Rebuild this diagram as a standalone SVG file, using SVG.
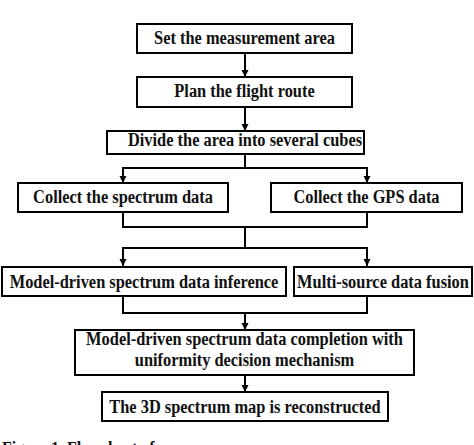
<svg xmlns="http://www.w3.org/2000/svg" width="474" height="445" viewBox="0 0 474 445">
<style>
.box{fill:#fff;stroke:#000;stroke-width:2}
.t{font-family:"Liberation Serif","Times New Roman",serif;font-weight:bold;font-size:16.4px;fill:#111;text-anchor:middle}
.c{fill:none;stroke:#000;stroke-width:2}
.cap{font-family:"Liberation Serif","Times New Roman",serif;font-weight:bold;font-size:16px;fill:#111}
</style>
<defs>
<marker id="ah" viewBox="0 0 10 10" refX="10" refY="5" markerWidth="3.6" markerHeight="4.2" orient="auto" markerUnits="strokeWidth">
<path d="M0,0 L10,5 L0,10 z" fill="#000"/>
</marker>
</defs>
<rect width="474" height="445" fill="#fff"/>
<g id="connectors">
<path class="c" d="M245,53 V77" marker-end="url(#ah)"/>
<path class="c" d="M245,107 V131" marker-end="url(#ah)"/>
<path class="c" d="M245,154 V168"/>
<path class="c" d="M123,168 H367"/>
<path class="c" d="M123,167 V183" marker-end="url(#ah)"/>
<path class="c" d="M367,167 V183" marker-end="url(#ah)"/>
<path class="c" d="M123,212 V227 H367 V212"/>
<path class="c" d="M245,227 V248"/>
<path class="c" d="M123,248 H367"/>
<path class="c" d="M123,247 V266" marker-end="url(#ah)"/>
<path class="c" d="M367,247 V266" marker-end="url(#ah)"/>
<path class="c" d="M123,296 V313 H367 V296"/>
<path class="c" d="M245,313 V330" marker-end="url(#ah)"/>
<path class="c" d="M245,375 V392" marker-end="url(#ah)"/>
</g>
<g id="n1"><rect class="box" x="137" y="24" width="215" height="29"/><text class="t" transform="translate(244.5 44) scale(1 1.13)">Set the measurement area</text></g>
<g id="n2"><rect class="box" x="137" y="77" width="215" height="30"/><text class="t" transform="translate(244.5 97) scale(1 1.13)">Plan the flight route</text></g>
<g id="n3"><rect class="box" x="107" y="131" width="257" height="23"/><text class="t" transform="translate(245 146) scale(1 1.13)">Divide the area into several cubes</text></g>
<g id="n4"><rect class="box" x="18" y="183" width="210" height="29"/><text class="t" transform="translate(123 203) scale(1 1.13)">Collect the spectrum data</text></g>
<g id="n5"><rect class="box" x="271" y="183" width="191" height="29"/><text class="t" transform="translate(366.5 203) scale(1 1.13)">Collect the GPS data</text></g>
<g id="n6"><rect class="box" x="2" y="267" width="284" height="29"/><text class="t" transform="translate(144 288) scale(1 1.13)">Model-driven spectrum data inference</text></g>
<g id="n7"><rect class="box" x="294" y="267" width="178" height="29"/><text class="t" transform="translate(383 288) scale(1 1.13)">Multi-source data fusion</text></g>
<g id="n8"><rect class="box" x="75" y="330" width="339" height="45"/><text class="t" transform="translate(244.5 345) scale(1 1.13)">Model-driven spectrum data completion with</text><text class="t" transform="translate(244.5 366) scale(1 1.13)">uniformity decision mechanism</text></g>
<g id="n9"><rect class="box" x="102" y="392" width="286" height="29"/><text class="t" transform="translate(245 413) scale(1 1.13)">The 3D spectrum map is reconstructed</text></g>
<text class="cap" x="2" y="453">Figure 1. Flowchart of</text>
</svg>
